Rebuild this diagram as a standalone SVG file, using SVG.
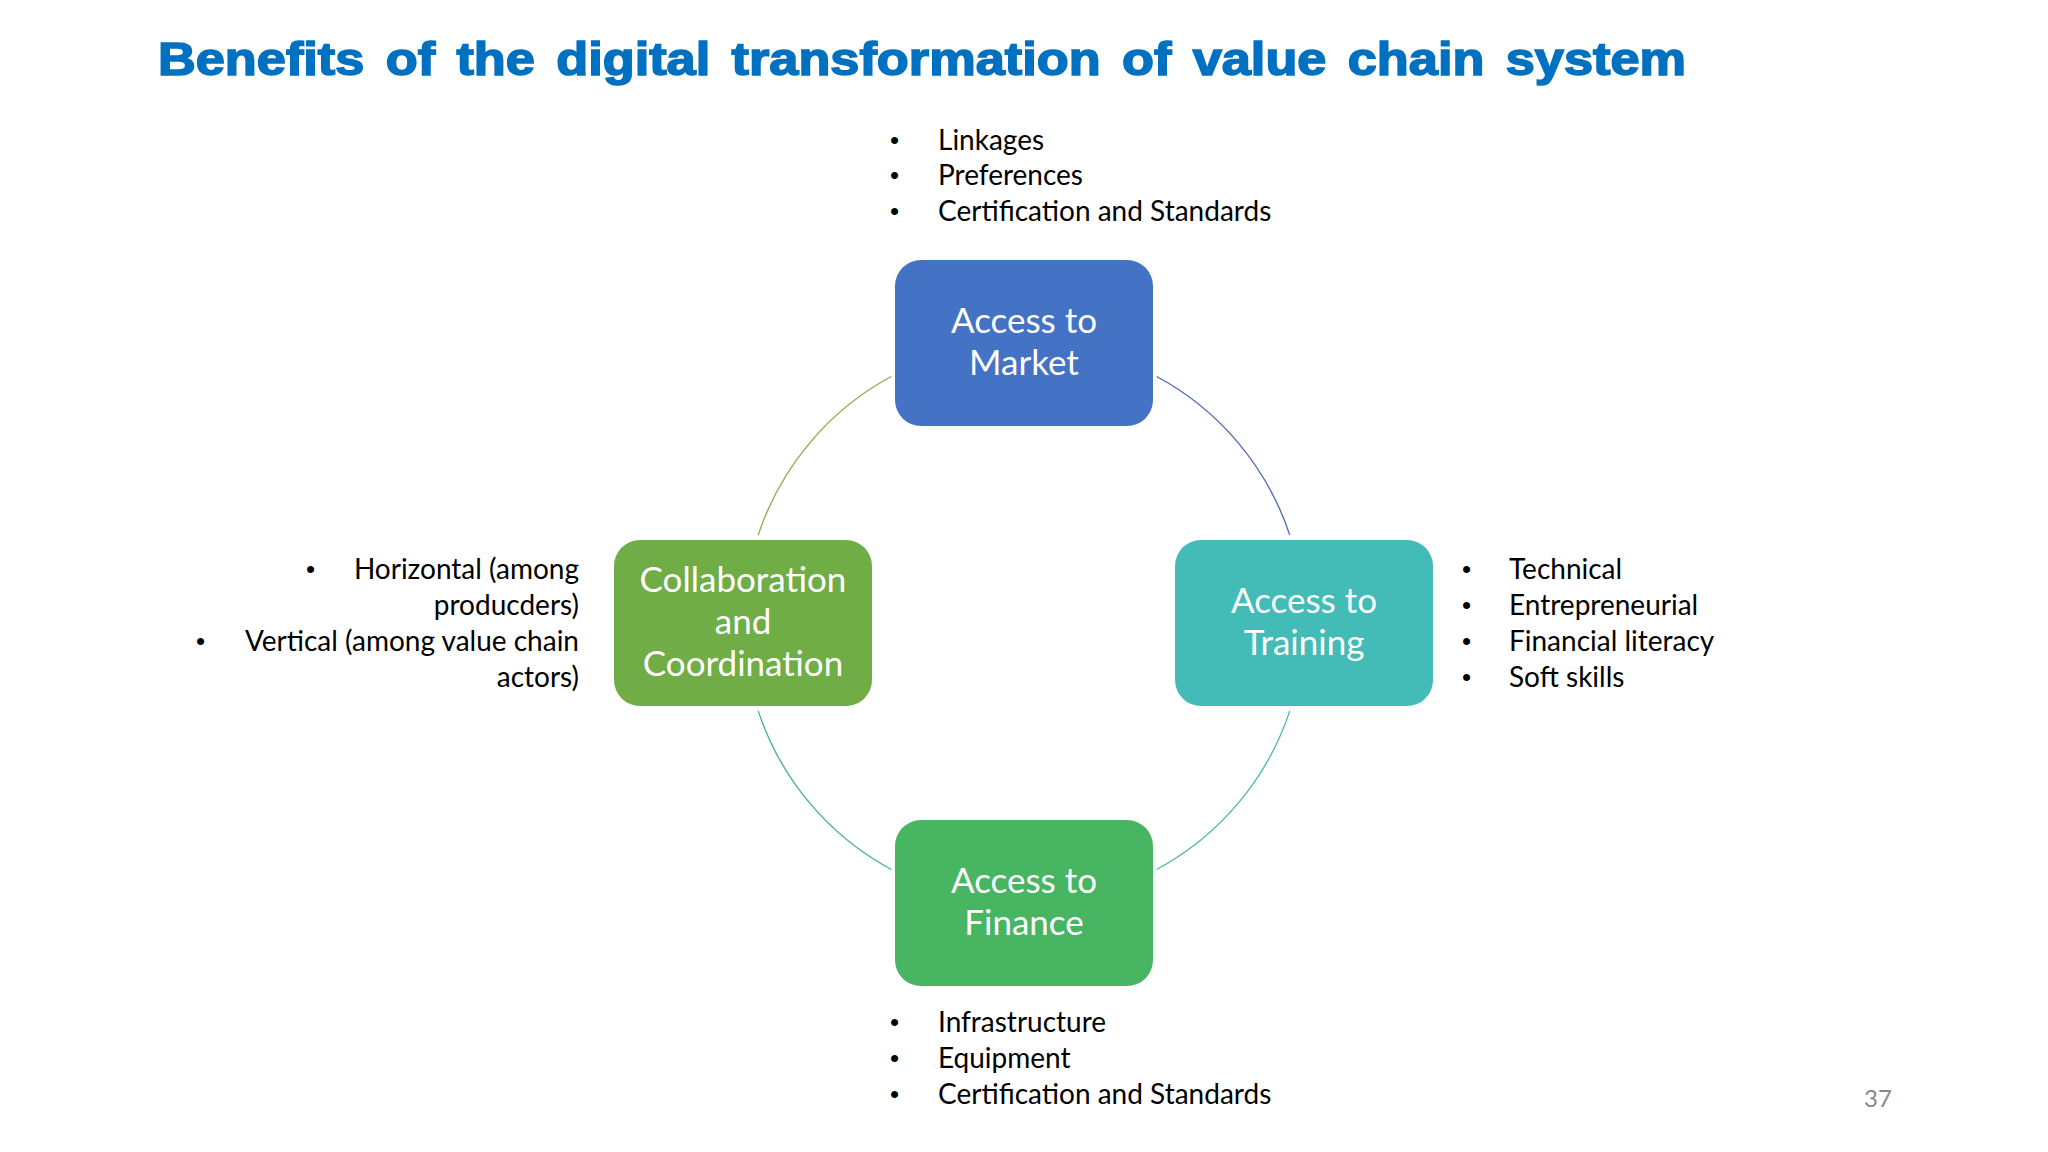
<svg xmlns="http://www.w3.org/2000/svg" width="2048" height="1152" viewBox="0 0 2048 1152">
<style>
.title{font-family:"Liberation Sans",Arial,sans-serif;font-weight:bold;font-size:46px;fill:#0070C0;stroke:#0070C0;stroke-width:1.6;word-spacing:6px}
.node{font-family:Lato,"Open Sans",sans-serif;font-size:35px;fill:#FFFFFF;text-anchor:middle}
.bl{font-family:Lato,"Open Sans",sans-serif;font-size:28px;fill:#000000}
.blr{font-family:Lato,"Open Sans",sans-serif;font-size:28px;fill:#000000;text-anchor:end}
.dot{font-family:"Liberation Sans",Arial,sans-serif;font-size:26px;fill:#000000}
.arc{fill:none;stroke-width:1.3}
.pg{font-family:Lato,"Open Sans",sans-serif;font-size:24px;fill:#8A8A8A}
</style>
<rect x="0" y="0" width="2048" height="1152" fill="#FFFFFF"/>
<text class="title" x="158" y="75" textLength="1528" lengthAdjust="spacingAndGlyphs">Benefits of the digital transformation of value chain system</text>

<g id="connectors">
<path class="arc" stroke="#4A67BE" d="M 1156.7 376.5 A 280 280 0 0 1 1289.8 535.1"/>
<path class="arc" stroke="#45B9A6" d="M 1289.8 710.9 A 280 280 0 0 1 1156.7 869.5"/>
<path class="arc" stroke="#46B57E" d="M 891.3 869.5 A 280 280 0 0 1 758.2 710.9"/>
<path class="arc" stroke="#86AE4C" d="M 758.2 535.1 A 280 280 0 0 1 891.3 376.5"/>
</g>

<g id="node-market">
<rect x="895" y="260" width="258" height="166" rx="26" fill="#4472C4"/>
<text class="node" x="1024" y="333">Access to</text>
<text class="node" x="1024" y="375">Market</text>
</g>
<g id="node-training">
<rect x="1175" y="540" width="258" height="166" rx="26" fill="#43BBB7"/>
<text class="node" x="1304" y="613">Access to</text>
<text class="node" x="1304" y="655">Training</text>
</g>
<g id="node-finance">
<rect x="895" y="820" width="258" height="166" rx="26" fill="#48B563"/>
<text class="node" x="1024" y="893">Access to</text>
<text class="node" x="1024" y="935">Finance</text>
</g>
<g id="node-collaboration">
<rect x="614" y="540" width="258" height="166" rx="26" fill="#70AD47"/>
<text class="node" x="743" y="592">Collaboration</text>
<text class="node" x="743" y="634">and</text>
<text class="node" x="743" y="676">Coordination</text>
</g>

<g id="list-market">
<text class="dot" x="890" y="149">•</text><text class="bl" x="938" y="150">Linkages</text>
<text class="dot" x="890" y="184">•</text><text class="bl" x="938" y="185">Preferences</text>
<text class="dot" x="890" y="220">•</text><text class="bl" x="938" y="221">Certification and Standards</text>
</g>
<g id="list-training">
<text class="dot" x="1462" y="578">•</text><text class="bl" x="1509" y="579">Technical</text>
<text class="dot" x="1462" y="614">•</text><text class="bl" x="1509" y="615">Entrepreneurial</text>
<text class="dot" x="1462" y="650">•</text><text class="bl" x="1509" y="651">Financial literacy</text>
<text class="dot" x="1462" y="686">•</text><text class="bl" x="1509" y="687">Soft skills</text>
</g>
<g id="list-finance">
<text class="dot" x="890" y="1031">•</text><text class="bl" x="938" y="1032">Infrastructure</text>
<text class="dot" x="890" y="1067">•</text><text class="bl" x="938" y="1068">Equipment</text>
<text class="dot" x="890" y="1103">•</text><text class="bl" x="938" y="1104">Certification and Standards</text>
</g>
<g id="list-collaboration">
<text class="dot" x="306" y="578">•</text><text class="blr" x="579" y="579">Horizontal (among</text>
<text class="blr" x="579" y="615">producders)</text>
<text class="dot" x="196" y="650">•</text><text class="blr" x="579" y="651">Vertical (among value chain</text>
<text class="blr" x="579" y="687">actors)</text>
</g>

<text class="pg" x="1864" y="1107">37</text>
</svg>
